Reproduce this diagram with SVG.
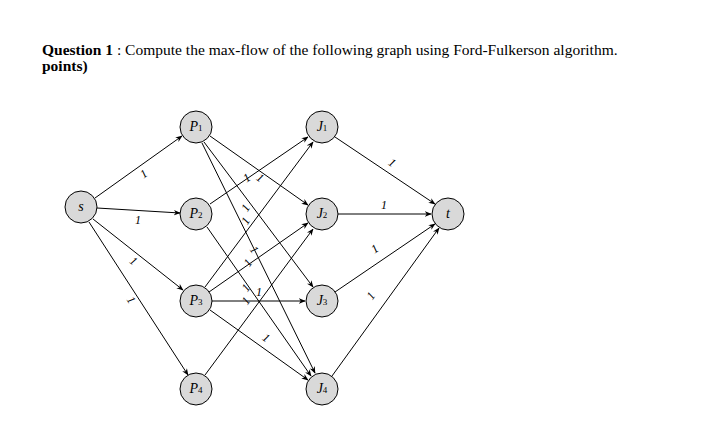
<svg xmlns="http://www.w3.org/2000/svg" width="710" height="424" viewBox="0 0 710 424">
<defs><marker id="a" viewBox="0 0 10 10" refX="9" refY="5" markerWidth="7" markerHeight="7" orient="auto"><path d="M0,1 L10,5 L0,9 L3,5 Z" fill="#000"/></marker></defs>
<style>
.n circle{fill:#d9d9d9;stroke:#000;stroke-width:1}
.n text{font-family:'Liberation Serif',serif;font-style:italic;font-size:14px;text-anchor:middle}
.l{font-family:'Liberation Serif',serif;font-style:italic;font-size:12px;text-anchor:middle}
#c line{stroke:#000;stroke-width:1;marker-end:url(#a)}
.h{font-family:'Liberation Serif',serif;font-size:15.5px}
</style>
<rect width="710" height="424" fill="#fff"/>
<text class="h" x="42" y="55"><tspan font-weight="bold">Question 1</tspan> : Compute the max-flow of the following graph using Ford-Fulkerson algorithm.</text>
<text class="h" x="42" y="71" font-weight="bold">points)</text>
<g id="c">
<line x1="95" y1="198" x2="182" y2="136"/>
<line x1="97" y1="208" x2="180" y2="213"/>
<line x1="93" y1="219" x2="183" y2="290"/>
<line x1="89" y1="222" x2="188" y2="375"/>
<line x1="210" y1="136" x2="308" y2="205"/>
<line x1="204" y1="142" x2="313" y2="287"/>
<line x1="202" y1="143" x2="315" y2="373"/>
<line x1="210" y1="204" x2="308" y2="137"/>
<line x1="207" y1="227" x2="311" y2="376"/>
<line x1="205" y1="287" x2="313" y2="142"/>
<line x1="209" y1="292" x2="308" y2="223"/>
<line x1="212" y1="301" x2="305" y2="301"/>
<line x1="210" y1="310" x2="308" y2="380"/>
<line x1="205" y1="375" x2="313" y2="229"/>
<line x1="335" y1="137" x2="435" y2="204"/>
<line x1="338" y1="214" x2="431" y2="214"/>
<line x1="335" y1="292" x2="435" y2="224"/>
<line x1="332" y1="376" x2="439" y2="228"/>
</g>
<g fill="#000">
<text class="l" transform="translate(146,177) rotate(-35)">1</text>
<text class="l" x="138" y="224">1</text>
<text class="l" transform="translate(131,264) rotate(38)">1</text>
<text class="l" transform="translate(128,302) rotate(57)">1</text>
<text class="l" transform="translate(249,181) rotate(-34)">1</text>
<text class="l" transform="translate(258,181) rotate(35)">1</text>
<text class="l" transform="translate(249,210) rotate(-57)">1</text>
<text class="l" transform="translate(249,223) rotate(-57)">1</text>
<text class="l" transform="translate(251,252) rotate(55)">1</text>
<text class="l" transform="translate(251,265) rotate(-53)">1</text>
<text class="l" transform="translate(249,290) rotate(-53)">1</text>
<text class="l" transform="translate(249,303) rotate(-53)">1</text>
<text class="l" x="259" y="296" font-size="13" font-style="normal">1</text>
<text class="l" transform="translate(264,341) rotate(35)">1</text>
<text class="l" transform="translate(390,166) rotate(34)">1</text>
<text class="l" x="384" y="209" font-style="normal">1</text>
<text class="l" transform="translate(377,252) rotate(-34)">1</text>
<text class="l" transform="translate(374,298) rotate(-54)">1</text>
</g>
<g id="s" class="n"><circle cx="81" cy="207" r="16"/><text x="81" y="211">s</text></g>
<g id="P1" class="n"><circle cx="196" cy="127" r="16"/><text x="196" y="131">P<tspan font-size="9" font-style="normal">1</tspan></text></g>
<g id="P2" class="n"><circle cx="196" cy="214" r="16"/><text x="196" y="218">P<tspan font-size="9" font-style="normal">2</tspan></text></g>
<g id="P3" class="n"><circle cx="196" cy="301" r="16"/><text x="196" y="305">P<tspan font-size="9" font-style="normal">3</tspan></text></g>
<g id="P4" class="n"><circle cx="196" cy="389" r="16"/><text x="196" y="393">P<tspan font-size="9" font-style="normal">4</tspan></text></g>
<g id="J1" class="n"><circle cx="322" cy="127" r="16"/><text x="322" y="131">J<tspan font-size="9" font-style="normal">1</tspan></text></g>
<g id="J2" class="n"><circle cx="322" cy="214" r="16"/><text x="322" y="218">J<tspan font-size="9" font-style="normal">2</tspan></text></g>
<g id="J3" class="n"><circle cx="322" cy="301" r="16"/><text x="322" y="305">J<tspan font-size="9" font-style="normal">3</tspan></text></g>
<g id="J4" class="n"><circle cx="322" cy="389" r="16"/><text x="322" y="393">J<tspan font-size="9" font-style="normal">4</tspan></text></g>
<g id="t" class="n"><circle cx="448" cy="214" r="16"/><text x="448" y="218">t</text></g>
</svg>
